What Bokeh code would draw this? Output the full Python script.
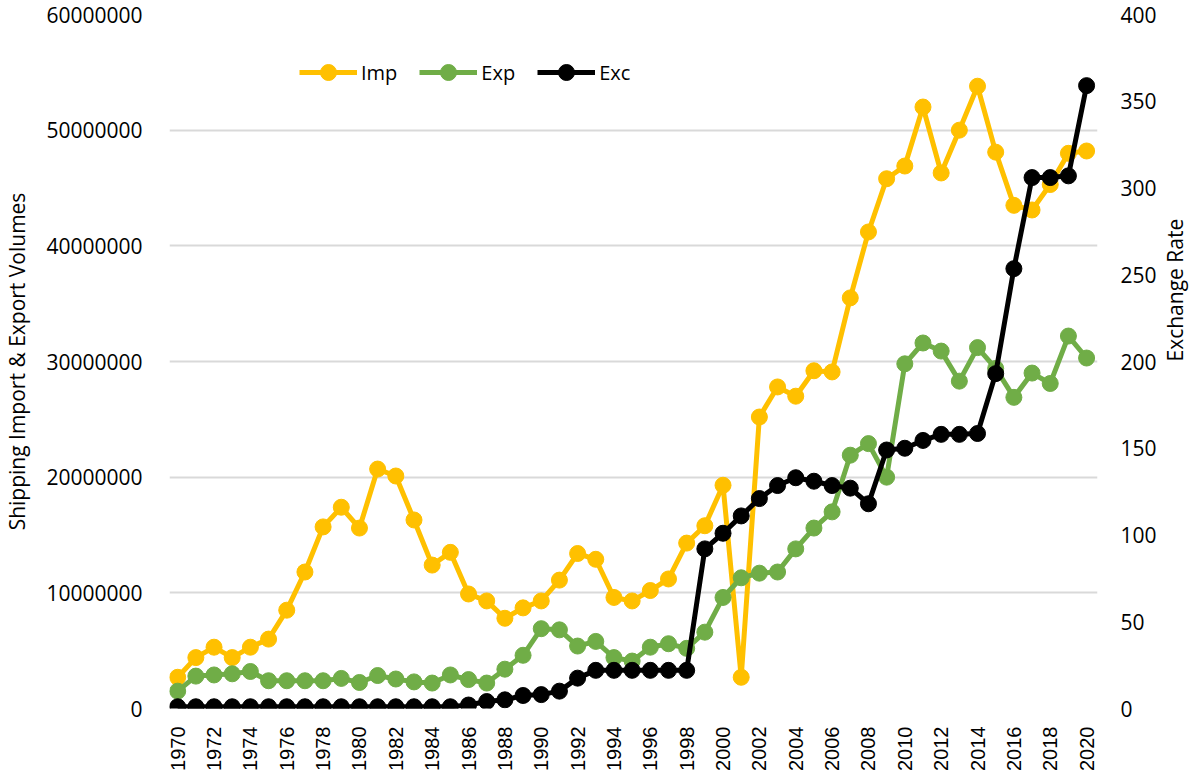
import math
from bokeh.plotting import figure
from bokeh.models import Range1d, LinearAxis, FixedTicker, BasicTickFormatter, Legend, LegendItem
from bokeh.embed import file_html
from bokeh.resources import INLINE

years = list(range(1970, 2021))
imp_m = [2.7, 4.4, 5.3, 4.4, 5.3, 6.0, 8.5, 11.8, 15.7, 17.4,
         15.6, 20.7, 20.1, 16.3, 12.4, 13.5, 9.9, 9.3, 7.8, 8.7,
         9.3, 11.1, 13.4, 12.9, 9.6, 9.3, 10.2, 11.2, 14.3, 15.8,
         19.3, 2.7, 25.2, 27.8, 27.0, 29.2, 29.1, 35.5, 41.2, 45.8,
         46.9, 52.0, 46.3, 50.0, 53.8, 48.1, 43.5, 43.1, 45.3, 48.0, 48.2]
exp_m = [1.5, 2.8, 2.9, 3.0, 3.2, 2.4, 2.4, 2.4, 2.4, 2.6,
         2.25, 2.85, 2.55, 2.3, 2.2, 2.9, 2.5, 2.2, 3.4, 4.6,
         6.9, 6.8, 5.4, 5.8, 4.4, 4.1, 5.3, 5.6, 5.2, 6.6,
         9.6, 11.3, 11.7, 11.8, 13.8, 15.6, 17.0, 21.9, 22.9, 20.0,
         29.8, 31.6, 30.9, 28.3, 31.2, 29.4, 26.9, 29.0, 28.1, 32.2, 30.3]
exc = [1] * 16 + [2, 4, 5, 7.5, 8, 10, 17.5] + [22] * 6 + \
      [92, 101, 111, 121, 128.5, 133, 131, 128.5, 127, 118,
       149, 150, 154.5, 158, 158, 158.5, 193, 253.5, 306, 306, 307, 359]

imp = [v * 1e6 for v in imp_m]
exp = [v * 1e6 for v in exp_m]

left_ticks = [0, 10000000, 20000000, 30000000, 40000000, 50000000, 60000000]
right_ticks = [0, 50, 100, 150, 200, 250, 300, 350, 400]
x_ticks = list(range(1970, 2021, 2))

YELLOW = "#FFC000"
GREEN = "#70AD47"
BLACK = "#000000"
TICK_FONT = "Open Sans"

p = figure(frame_width=928, frame_height=694, output_backend="svg", toolbar_location=None,
           x_range=Range1d(1969.55, 2020.6), y_range=Range1d(0, 60000000),
           min_border_left=167, min_border_right=105, min_border_top=14, min_border_bottom=69)
p.outline_line_color = None
p.background_fill_color = "white"
p.border_fill_color = "white"
p.extra_y_ranges = {"right": Range1d(0, 400)}

p.xgrid.visible = False
p.ygrid.grid_line_color = "#D9D9D9"
p.ygrid.grid_line_width = 2
p.ygrid.ticker = FixedTicker(ticks=left_ticks)

# left axis
ya = p.yaxis[0]
ya.ticker = FixedTicker(ticks=left_ticks)
ya.formatter = BasicTickFormatter(use_scientific=False)
ya.axis_line_color = None
ya.major_tick_line_color = None
ya.minor_tick_line_color = None
ya.major_tick_in = 0
ya.major_tick_out = 0
ya.major_label_standoff = 27
ya.major_label_text_font = TICK_FONT
ya.major_label_text_font_size = "21px"
ya.major_label_text_color = "#000000"
ya.axis_label = "Shipping Import & Export Volumes"
ya.axis_label_text_font = "Open Sans"
ya.axis_label_text_font_style = "normal"
ya.axis_label_text_font_size = "21px"
ya.axis_label_text_color = "#000000"
ya.axis_label_standoff = 12

# bottom axis
xa = p.xaxis[0]
xa.ticker = FixedTicker(ticks=x_ticks)
xa.formatter = BasicTickFormatter(use_scientific=False)
xa.major_label_orientation = math.pi / 2
xa.axis_line_color = None
xa.major_tick_line_color = None
xa.minor_tick_line_color = None
xa.major_tick_in = 0
xa.major_tick_out = 0
xa.major_label_standoff = 18
xa.major_label_text_font = "Liberation Sans"
xa.major_label_text_font_size = "20px"
xa.major_label_text_color = "#000000"

# right axis
ra = LinearAxis(y_range_name="right")
ra.ticker = FixedTicker(ticks=right_ticks)
ra.axis_line_color = None
ra.major_tick_line_color = None
ra.minor_tick_line_color = None
ra.major_tick_in = 0
ra.major_tick_out = 0
ra.major_label_standoff = 23
ra.major_label_text_font = TICK_FONT
ra.major_label_text_font_size = "21px"
ra.major_label_text_color = "#000000"
ra.axis_label = "Exchange Rate"
ra.axis_label_text_font = "Open Sans"
ra.axis_label_text_font_style = "normal"
ra.axis_label_text_font_size = "21px"
ra.axis_label_text_color = "#000000"
ra.axis_label_text_align = "center"
ra.axis_label_standoff = 15
if "axis_label_orientation" in ra.properties():
    ra.axis_label_orientation = math.pi / 2
p.add_layout(ra, "right")

l1 = p.line(years, imp, line_color=YELLOW, line_width=5)
s1 = p.scatter(years, imp, size=16, fill_color=YELLOW, line_color=YELLOW)
l2 = p.line(years, exp, line_color=GREEN, line_width=5)
s2 = p.scatter(years, exp, size=16, fill_color=GREEN, line_color=GREEN)
l3 = p.line(years, exc, line_color=BLACK, line_width=5, y_range_name="right")
s3 = p.scatter(years, exc, size=16, fill_color=BLACK, line_color=BLACK, y_range_name="right")

legend = Legend(items=[LegendItem(label="Imp", renderers=[l1, s1]),
                       LegendItem(label="Exp", renderers=[l2, s2]),
                       LegendItem(label="Exc", renderers=[l3, s3])],
                orientation="horizontal", location=(130, 616),
                glyph_width=58, glyph_height=40, label_height=40,
                label_standoff=4, spacing=22, padding=0, margin=0,
                border_line_color=None, background_fill_alpha=0,
                label_text_font="Open Sans", label_text_font_size="20px",
                label_text_color="#000000")
p.add_layout(legend)

open("out.html", "w").write(file_html(p, INLINE))
